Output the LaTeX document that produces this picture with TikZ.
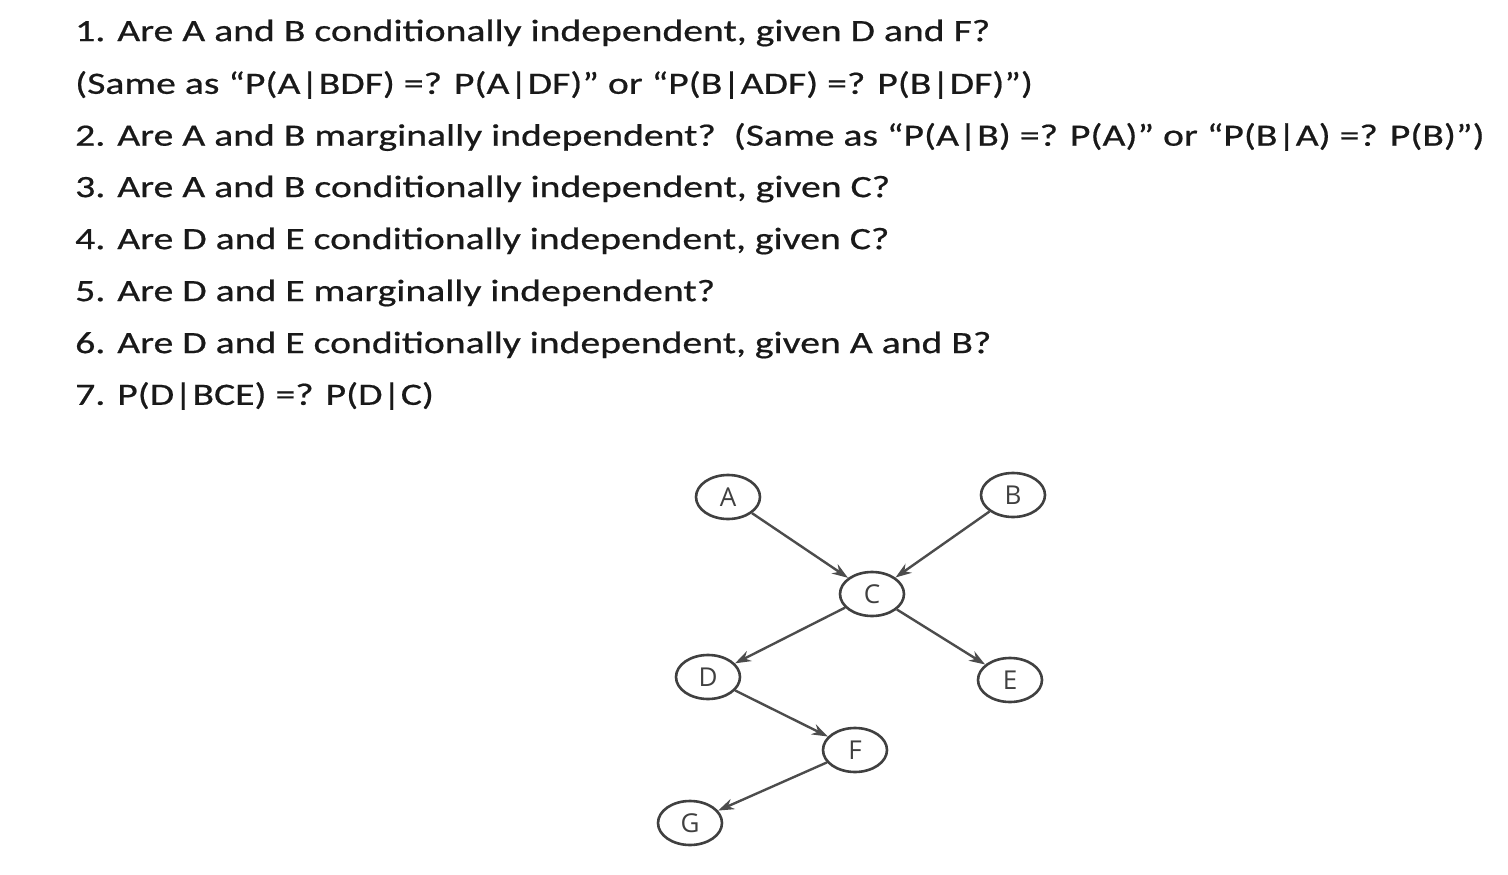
\documentclass[tikz,border=0pt]{standalone}
\usepackage{fontspec}
\setmainfont{Carlito}[FakeStretch=1.28,FakeBold=0.6]
\newfontfamily\lblfont{Open Sans}
\usetikzlibrary{shapes.geometric,arrows.meta}
\begin{document}
\begin{tikzpicture}[x=1pt,y=1pt,
  q/.style={anchor=west,font=\fontsize{31}{34}\selectfont,inner sep=0pt,text=black!90},
  nd/.style={ellipse,draw=black!75,line width=2.6pt,minimum width=64pt,minimum height=44pt,font=\lblfont\fontsize{26}{28}\selectfont,text=black!75},
  ar/.style={-{Stealth[length=16pt,width=11pt]},line width=2.4pt,draw=black!70}]
\useasboundingbox (0,0) rectangle (1508,-875);
\node[q] (t1) at (75,-33) {1. Are A and B conditionally independent, given D and F?};
\node[q] (t2) at (75,-85) {(Same as “P(A|BDF) =? P(A|DF)” or “P(B|ADF) =? P(B|DF)”)};
\node[q] (t3) at (75,-137) {2. Are A and B marginally independent?\ \ (Same as “P(A|B) =? P(A)” or “P(B|A) =? P(B)”)};
\node[q] (t4) at (75,-189) {3. Are A and B conditionally independent, given C?};
\node[q] (t5) at (75,-241) {4. Are D and E conditionally independent, given C?};
\node[q] (t6) at (75,-293) {5. Are D and E marginally independent?};
\node[q] (t7) at (75,-345) {6. Are D and E conditionally independent, given A and B?};
\node[q] (t8) at (75,-396) {7. P(D|BCE) =? P(D|C)};
\node[nd] (A) at (728,-497) {A};
\node[nd] (B) at (1013,-495) {B};
\node[nd] (C) at (872,-594) {C};
\node[nd] (D) at (708,-677) {D};
\node[nd] (E) at (1010,-680) {E};
\node[nd] (F) at (855,-750) {F};
\node[nd] (G) at (690,-823) {G};
\draw[ar] (A) -- (C);
\draw[ar] (B) -- (C);
\draw[ar] (C) -- (D);
\draw[ar] (C) -- (E);
\draw[ar] (D) -- (F);
\draw[ar] (F) -- (G);
\end{tikzpicture}
\end{document}
